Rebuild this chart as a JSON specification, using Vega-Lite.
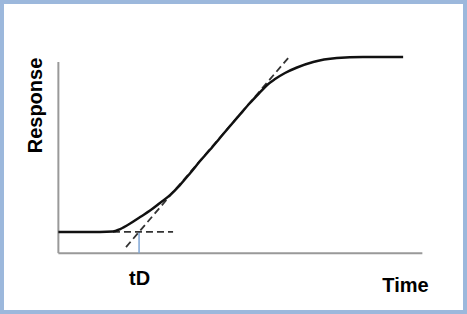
{
  "$schema": "https://vega.github.io/schema/vega-lite/v6.json",
  "width": 467,
  "height": 314,
  "padding": 0,
  "autosize": {"type": "none"},
  "background": "white",
  "config": {
    "view": {"stroke": "#9cb8dc", "strokeWidth": 8},
    "font": "Liberation Sans"
  },
  "encoding": {
    "x": {
      "field": "t",
      "type": "quantitative",
      "scale": {"domain": [-1.7, 11.9], "nice": false, "zero": false},
      "axis": {
        "orient": "bottom",
        "offset": -61,
        "domain": false,
        "ticks": false,
        "tickSize": 0,
        "grid": false,
        "values": [2.35],
        "labelExpr": "'tD'",
        "labelFlush": false,
        "labelFontSize": 20,
        "labelFont": "Liberation Sans",
        "labelFontWeight": "bold",
        "labelColor": "#000000",
        "labelBaseline": "alphabetic",
        "labelPadding": 31,
        "labelDx": 3.5,
        "title": "Time",
        "titleX": 405,
        "titleY": 38,
        "titleBaseline": "alphabetic",
        "titleAlign": "center",
        "titleFontSize": 20,
        "titleFont": "Liberation Sans",
        "titleFontWeight": "bold",
        "titleColor": "#000000"
      }
    },
    "y": {
      "field": "r",
      "type": "quantitative",
      "scale": {"domain": [-0.31, 1.29], "nice": false, "zero": false},
      "axis": {
        "orient": "left",
        "offset": -58,
        "domain": false,
        "ticks": false,
        "tickSize": 0,
        "labels": false,
        "grid": false,
        "values": [],
        "title": "Response",
        "titleX": -17,
        "titleY": 105,
        "titleAngle": -90,
        "titleBaseline": "alphabetic",
        "titleAlign": "center",
        "titleFontSize": 20,
        "titleFont": "Liberation Sans",
        "titleFontWeight": "bold",
        "titleColor": "#000000"
      }
    }
  },
  "layer": [
    {
      "data": {"values": [
        {"t": 0, "r": 0, "t2": 10.6, "r2": 0},
        {"t": 0, "r": 0, "t2": 0, "r2": 0.974}
      ]},
      "mark": {"type": "rule", "color": "#999999", "strokeWidth": 2},
      "encoding": {"x2": {"field": "t2"}, "y2": {"field": "r2"}}
    },
    {
      "data": {"values": [
        {"t": 2.35, "r": 0, "t2": 2.35, "r2": 0.108}
      ]},
      "mark": {"type": "rule", "color": "#7fa6d6", "strokeWidth": 1.5},
      "encoding": {"x2": {"field": "t2"}, "y2": {"field": "r2"}}
    },
    {
      "data": {"values": [
        {"seg": "tangent", "t": 1.97, "r": 0.031},
        {"seg": "tangent", "t": 6.72, "r": 1.0},
        {"seg": "baseline", "t": 1.59, "r": 0.108},
        {"seg": "baseline", "t": 3.34, "r": 0.108}
      ]},
      "mark": {"type": "line", "color": "#333333", "strokeWidth": 1.8, "strokeDash": [7, 4]},
      "encoding": {"detail": {"field": "seg"}}
    },
    {
      "data": {"values": [
        {"t": 0, "r": 0.108},
        {"t": 1.21, "r": 0.108},
        {"t": 1.59, "r": 0.110},
        {"t": 1.80, "r": 0.123},
        {"t": 2.09, "r": 0.151},
        {"t": 2.38, "r": 0.184},
        {"t": 2.67, "r": 0.217},
        {"t": 2.96, "r": 0.256},
        {"t": 3.25, "r": 0.296},
        {"t": 3.54, "r": 0.347},
        {"t": 3.83, "r": 0.406},
        {"t": 4.12, "r": 0.468},
        {"t": 4.42, "r": 0.528},
        {"t": 4.71, "r": 0.588},
        {"t": 5.00, "r": 0.648},
        {"t": 5.29, "r": 0.707},
        {"t": 5.58, "r": 0.765},
        {"t": 5.87, "r": 0.819},
        {"t": 6.08, "r": 0.857},
        {"t": 6.31, "r": 0.887},
        {"t": 6.60, "r": 0.918},
        {"t": 6.95, "r": 0.946},
        {"t": 7.42, "r": 0.974},
        {"t": 8.11, "r": 0.994},
        {"t": 8.87, "r": 1.0},
        {"t": 10.04, "r": 1.0}
      ]},
      "mark": {"type": "line", "color": "#111111", "strokeWidth": 2.5, "interpolate": "monotone"}
    }
  ]
}
